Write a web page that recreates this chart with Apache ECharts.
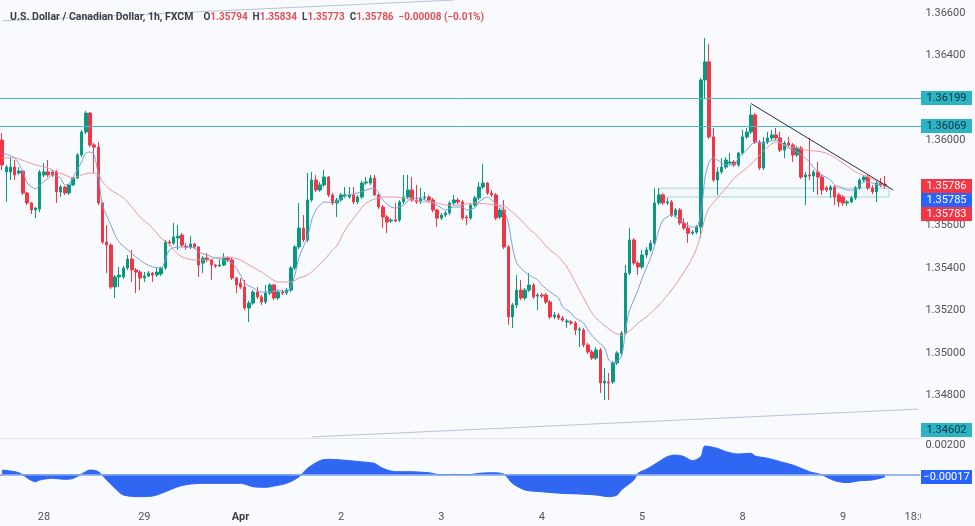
<!DOCTYPE html>
<html><head><meta charset="utf-8">
<script src="https://cdn.jsdelivr.net/npm/echarts@6/dist/echarts.min.js"></script>
<style>html,body{margin:0;padding:0;background:#f8fafd}#c{width:975px;height:526px}</style>
</head><body><div id="c"></div>
<script>
// ---------------- DATA ----------------
const barCount = 220;
const dateLabels = [[10,'28'],[34,'29'],[57,'Apr'],[81,'2'],[105,'3'],[129,'4'],[153,'5'],[177,'8'],[201,'9'],[219,'18:00']];
// [open, close, low, high]
const candles = [
[1.36002,1.35885,1.35861,1.36035],[1.35852,1.35875,1.35711,1.35885],[1.35852,1.35875,1.35814,1.35922],[1.35875,1.35838,1.35814,1.35908],
[1.35847,1.35856,1.35838,1.35875],[1.35856,1.35753,1.35744,1.35861],[1.35753,1.35706,1.35696,1.35758],[1.35706,1.35673,1.35654,1.35711],
[1.35673,1.35682,1.35635,1.35687],[1.35677,1.35852,1.35663,1.35861],[1.35838,1.35852,1.35828,1.35894],[1.35852,1.35838,1.35828,1.35908],
[1.35852,1.35838,1.35828,1.35861],[1.35852,1.35758,1.35706,1.35861],[1.35758,1.35781,1.35734,1.35791],[1.35781,1.35753,1.35744,1.35786],
[1.35753,1.35791,1.35744,1.35796],[1.35791,1.35823,1.35786,1.35828],[1.35823,1.35932,1.35819,1.35941],[1.35932,1.36040,1.35922,1.36049],
[1.36040,1.36129,1.36031,1.36139],[1.36129,1.35979,1.35969,1.36134],[1.35979,1.35969,1.35847,1.35988],[1.35969,1.35706,1.35696,1.35993],
[1.35706,1.35522,1.35513,1.35711],[1.35522,1.35508,1.35376,1.35602],[1.35508,1.35311,1.35301,1.35517],[1.35311,1.35358,1.35259,1.35367],
[1.35358,1.35367,1.35311,1.35405],[1.35358,1.35400,1.35348,1.35409],[1.35400,1.35442,1.35391,1.35461],[1.35442,1.35391,1.35334,1.35485],
[1.35391,1.35381,1.35282,1.35400],[1.35381,1.35353,1.35296,1.35391],[1.35353,1.35362,1.35334,1.35381],[1.35362,1.35376,1.35358,1.35386],
[1.35376,1.35367,1.35334,1.35381],[1.35367,1.35381,1.35358,1.35400],[1.35372,1.35400,1.35362,1.35405],[1.35400,1.35522,1.35391,1.35532],
[1.35522,1.35517,1.35503,1.35532],[1.35517,1.35546,1.35508,1.35612],[1.35541,1.35550,1.35485,1.35602],[1.35555,1.35508,1.35499,1.35564],
[1.35503,1.35499,1.35485,1.35517],[1.35499,1.35513,1.35489,1.35550],[1.35513,1.35499,1.35489,1.35517],[1.35499,1.35414,1.35358,1.35503],
[1.35423,1.35447,1.35376,1.35456],[1.35447,1.35438,1.35428,1.35470],[1.35438,1.35414,1.35344,1.35442],[1.35414,1.35409,1.35400,1.35419],
[1.35409,1.35414,1.35405,1.35438],[1.35414,1.35447,1.35409,1.35470],[1.35447,1.35438,1.35428,1.35452],[1.35438,1.35353,1.35344,1.35447],
[1.35353,1.35320,1.35282,1.35358],[1.35329,1.35311,1.35301,1.35353],[1.35311,1.35212,1.35202,1.35344],[1.35212,1.35235,1.35146,1.35245],
[1.35235,1.35287,1.35226,1.35296],[1.35287,1.35264,1.35254,1.35311],[1.35264,1.35240,1.35226,1.35273],[1.35240,1.35282,1.35231,1.35320],
[1.35282,1.35320,1.35273,1.35329],[1.35320,1.35259,1.35249,1.35325],[1.35259,1.35287,1.35249,1.35296],[1.35287,1.35282,1.35273,1.35296],
[1.35282,1.35296,1.35273,1.35306],[1.35296,1.35400,1.35287,1.35409],[1.35400,1.35499,1.35391,1.35508],[1.35499,1.35588,1.35489,1.35706],
[1.35588,1.35532,1.35522,1.35649],[1.35532,1.35720,1.35522,1.35847],[1.35720,1.35814,1.35711,1.35852],[1.35814,1.35767,1.35758,1.35838],
[1.35767,1.35791,1.35758,1.35805],[1.35791,1.35828,1.35781,1.35861],[1.35828,1.35744,1.35734,1.35833],[1.35744,1.35706,1.35696,1.35753],
[1.35706,1.35720,1.35640,1.35730],[1.35720,1.35744,1.35711,1.35753],[1.35739,1.35744,1.35730,1.35781],[1.35734,1.35744,1.35725,1.35781],
[1.35744,1.35711,1.35701,1.35781],[1.35711,1.35734,1.35701,1.35744],[1.35734,1.35800,1.35725,1.35810],[1.35800,1.35805,1.35791,1.35828],
[1.35800,1.35823,1.35791,1.35838],[1.35823,1.35744,1.35739,1.35838],[1.35744,1.35687,1.35677,1.35748],[1.35687,1.35640,1.35588,1.35696],
[1.35640,1.35616,1.35564,1.35649],[1.35621,1.35626,1.35612,1.35635],[1.35626,1.35621,1.35616,1.35706],[1.35626,1.35711,1.35616,1.35720],
[1.35711,1.35734,1.35701,1.35838],[1.35734,1.35767,1.35725,1.35838],[1.35767,1.35720,1.35711,1.35828],[1.35720,1.35711,1.35701,1.35791],
[1.35711,1.35730,1.35701,1.35777],[1.35730,1.35734,1.35720,1.35758],[1.35734,1.35720,1.35711,1.35744],[1.35720,1.35673,1.35663,1.35730],
[1.35673,1.35635,1.35593,1.35677],[1.35635,1.35649,1.35626,1.35659],[1.35649,1.35659,1.35640,1.35668],[1.35659,1.35706,1.35649,1.35715],
[1.35706,1.35720,1.35696,1.35744],[1.35720,1.35711,1.35701,1.35730],[1.35711,1.35635,1.35626,1.35720],[1.35640,1.35635,1.35602,1.35649],
[1.35635,1.35696,1.35626,1.35706],[1.35696,1.35730,1.35687,1.35739],[1.35730,1.35781,1.35720,1.35805],[1.35781,1.35800,1.35772,1.35889],
[1.35800,1.35753,1.35744,1.35805],[1.35753,1.35744,1.35734,1.35767],[1.35744,1.35635,1.35626,1.35753],[1.35640,1.35673,1.35630,1.35682],
[1.35673,1.35499,1.35489,1.35720],[1.35499,1.35170,1.35132,1.35508],[1.35170,1.35226,1.35118,1.35235],[1.35226,1.35296,1.35212,1.35367],
[1.35296,1.35259,1.35249,1.35344],[1.35259,1.35296,1.35249,1.35306],[1.35296,1.35320,1.35287,1.35376],[1.35320,1.35264,1.35254,1.35329],
[1.35268,1.35273,1.35202,1.35282],[1.35273,1.35268,1.35259,1.35282],[1.35273,1.35240,1.35231,1.35282],[1.35240,1.35170,1.35160,1.35249],
[1.35170,1.35179,1.35160,1.35193],[1.35179,1.35165,1.35155,1.35188],[1.35165,1.35155,1.35146,1.35174],[1.35146,1.35151,1.35118,1.35160],
[1.35146,1.35141,1.35132,1.35155],[1.35141,1.35108,1.35085,1.35151],[1.35108,1.35113,1.35028,1.35122],[1.35108,1.35038,1.35028,1.35118],
[1.35038,1.35005,1.34995,1.35047],[1.35005,1.34976,1.34967,1.35014],[1.34976,1.35014,1.34967,1.35028],[1.35014,1.34859,1.34812,1.35024],
[1.34859,1.34868,1.34779,1.34929],[1.34864,1.34859,1.34779,1.34906],[1.34864,1.34953,1.34854,1.34962],[1.34953,1.35000,1.34943,1.35009],
[1.35000,1.35094,1.34991,1.35103],[1.35094,1.35376,1.35085,1.35414],[1.35376,1.35532,1.35367,1.35588],[1.35532,1.35423,1.35414,1.35541],
[1.35423,1.35405,1.35367,1.35433],[1.35405,1.35461,1.35395,1.35485],[1.35461,1.35485,1.35447,1.35499],[1.35485,1.35517,1.35475,1.35532],
[1.35517,1.35706,1.35508,1.35776],[1.35706,1.35744,1.35696,1.35776],[1.35744,1.35706,1.35696,1.35753],[1.35706,1.35711,1.35696,1.35730],
[1.35711,1.35649,1.35640,1.35720],[1.35649,1.35673,1.35640,1.35682],[1.35673,1.35612,1.35602,1.35682],[1.35612,1.35588,1.35579,1.35635],
[1.35588,1.35564,1.35518,1.35616],[1.35564,1.35569,1.35555,1.35579],[1.35569,1.35593,1.35560,1.35602],[1.35593,1.36285,1.35541,1.36294],
[1.36285,1.36370,1.36200,1.36482],[1.36370,1.36017,1.36007,1.36454],[1.36017,1.35814,1.35805,1.36059],[1.35814,1.35852,1.35744,1.35875],
[1.35852,1.35875,1.35842,1.35917],[1.35875,1.35908,1.35866,1.35922],[1.35894,1.35899,1.35885,1.35941],[1.35899,1.35885,1.35875,1.35908],
[1.35885,1.35941,1.35875,1.35946],[1.35941,1.36017,1.35932,1.36049],[1.36017,1.36040,1.36007,1.36059],[1.36040,1.36120,1.36031,1.36167],
[1.36120,1.35993,1.35983,1.36129],[1.35993,1.35871,1.35861,1.36002],[1.35871,1.35993,1.35861,1.36017],[1.35993,1.36012,1.35983,1.36040],
[1.36012,1.36026,1.36002,1.36049],[1.36026,1.36012,1.36002,1.36059],[1.36012,1.35955,1.35946,1.36040],[1.35955,1.35988,1.35917,1.35998],
[1.35988,1.35979,1.35969,1.36017],[1.35979,1.35932,1.35899,1.35988],[1.35932,1.35965,1.35922,1.35974],[1.35965,1.35828,1.35819,1.35974],
[1.35828,1.35838,1.35696,1.35852],[1.35838,1.35833,1.35814,1.36012],[1.35833,1.35852,1.35758,1.35861],[1.35852,1.35828,1.35744,1.35899],
[1.35828,1.35767,1.35744,1.35838],[1.35777,1.35767,1.35758,1.35786],[1.35767,1.35781,1.35730,1.35791],[1.35781,1.35734,1.35696,1.35791],
[1.35744,1.35711,1.35687,1.35753],[1.35734,1.35706,1.35692,1.35744],[1.35706,1.35711,1.35692,1.35720],[1.35711,1.35730,1.35706,1.35739],
[1.35730,1.35777,1.35720,1.35786],[1.35777,1.35814,1.35767,1.35823],[1.35814,1.35828,1.35805,1.35838],[1.35828,1.35777,1.35767,1.35838],
[1.35777,1.35758,1.35748,1.35791],[1.35758,1.35800,1.35711,1.35810],[1.35800,1.35791,1.35781,1.35823],[1.35794,1.35786,1.35773,1.35834]
];
// moving averages: [bar index, value]
const maFast = [[0,1.35941],[3,1.35918],[5,1.35852],[6,1.35800],[8,1.35772],[9,1.35791],[11,1.35823],[12,1.35838],[14,1.35823],[15,1.35791],[16,1.35795],[17,1.35828],[19,1.35899],[20,1.35941],[21,1.35946],[22,1.35932],[23,1.35838],[24,1.35696],[26,1.35602],[27,1.35555],[28,1.35522],[30,1.35485],[32,1.35452],[34,1.35423],[36,1.35405],[38,1.35400],[39,1.35438],[40,1.35485],[42,1.35499],[44,1.35499],[46,1.35494],[47,1.35475],[49,1.35461],[51,1.35447],[53,1.35438],[55,1.35423],[57,1.35367],[58,1.35329],[60,1.35306],[62,1.35287],[64,1.35287],[66,1.35296],[68,1.35287],[69,1.35311],[70,1.35367],[71,1.35452],[73,1.35546],[74,1.35626],[75,1.35673],[76,1.35696],[77,1.35711],[79,1.35706],[82,1.35739],[85,1.35753],[87,1.35767],[89,1.35776],[90,1.35753],[91,1.35720],[93,1.35687],[94,1.35682],[96,1.35696],[98,1.35730],[99,1.35730],[101,1.35720],[103,1.35706],[105,1.35682],[106,1.35673],[108,1.35687],[110,1.35687],[111,1.35673],[113,1.35682],[114,1.35711],[116,1.35734],[117,1.35720],[119,1.35687],[120,1.35673],[121,1.35612],[122,1.35499],[123,1.35423],[125,1.35381],[126,1.35367],[128,1.35344],[129,1.35320],[131,1.35287],[133,1.35259],[134,1.35217],[136,1.35188],[137,1.35165],[139,1.35141],[140,1.35108],[142,1.35061],[144,1.35024],[145,1.34967],[146,1.34953],[148,1.34981],[149,1.35108],[150,1.35202],[152,1.35296],[153,1.35353],[154,1.35400],[155,1.35447],[156,1.35508],[157,1.35579],[158,1.35626],[160,1.35649],[162,1.35626],[163,1.35612],[165,1.35593],[166,1.35593],[167,1.35649],[168,1.35823],[169,1.35899],[170,1.35918],[171,1.35908],[173,1.35885],[175,1.35885],[176,1.35918],[178,1.35955],[179,1.35979],[180,1.35993],[182,1.35988],[183,1.35993],[185,1.36002],[186,1.35993],[188,1.35965],[190,1.35946],[191,1.35932],[193,1.35899],[194,1.35871],[196,1.35838],[198,1.35814],[199,1.35791],[201,1.35776],[202,1.35767],[204,1.35767],[205,1.35791],[206,1.35805],[208,1.35800],[209,1.35791],[211,1.35785]];
const maSlow = [[0,1.35918],[3,1.35918],[6,1.35899],[8,1.35885],[11,1.35871],[13,1.35852],[15,1.35838],[17,1.35823],[19,1.35838],[21,1.35847],[23,1.35842],[24,1.35805],[26,1.35767],[29,1.35730],[31,1.35687],[33,1.35640],[36,1.35588],[38,1.35541],[40,1.35513],[41,1.35485],[43,1.35452],[46,1.35438],[49,1.35438],[51,1.35447],[54,1.35452],[57,1.35438],[59,1.35414],[62,1.35381],[64,1.35353],[66,1.35334],[69,1.35334],[71,1.35353],[73,1.35367],[75,1.35400],[77,1.35438],[79,1.35485],[80,1.35503],[82,1.35579],[85,1.35659],[87,1.35706],[90,1.35730],[92,1.35734],[94,1.35734],[97,1.35725],[99,1.35716],[101,1.35711],[104,1.35706],[106,1.35696],[109,1.35696],[111,1.35701],[113,1.35706],[116,1.35701],[118,1.35696],[120,1.35692],[122,1.35663],[124,1.35626],[126,1.35584],[128,1.35550],[130,1.35503],[133,1.35452],[135,1.35405],[138,1.35296],[141,1.35188],[143,1.35146],[146,1.35099],[148,1.35085],[150,1.35104],[152,1.35141],[154,1.35170],[157,1.35226],[160,1.35296],[163,1.35381],[165,1.35447],[166,1.35494],[167,1.35555],[168,1.35635],[169,1.35682],[171,1.35730],[173,1.35776],[175,1.35823],[178,1.35871],[180,1.35908],[182,1.35951],[183,1.35969],[185,1.35993],[187,1.35979],[190,1.35965],[192,1.35955],[194,1.35951],[196,1.35946],[198,1.35932],[201,1.35894],[204,1.35852],[207,1.35828],[210,1.35800],[211,1.35783]];
// lower-pane oscillator: [bar index, value]
const oscValues = [[0,0.00030],[4,0.00012],[8,-0.00049],[9,-0.00037],[12,-0.00026],[15,-0.00033],[17,-0.00026],[20,0.00019],[21,0.00030],[23,0.00019],[25,-0.00037],[27,-0.00094],[29,-0.00139],[33,-0.00150],[36,-0.00146],[39,-0.00117],[42,-0.00083],[45,-0.00065],[49,-0.00060],[54,-0.00060],[57,-0.00060],[60,-0.00083],[63,-0.00087],[65,-0.00078],[68,-0.00060],[71,-0.00015],[73,0.00042],[76,0.00094],[78,0.00103],[83,0.00094],[88,0.00080],[89,0.00076],[91,0.00042],[94,0.00019],[97,0.00019],[102,0.00012],[105,-0.00003],[108,0.00001],[111,-0.00003],[114,0.00008],[117,0.00012],[120,0.00001],[122,-0.00060],[125,-0.00105],[129,-0.00117],[134,-0.00128],[138,-0.00132],[142,-0.00139],[145,-0.00150],[147,-0.00139],[148,-0.00105],[151,-0.00037],[152,0.00008],[154,0.00035],[157,0.00087],[159,0.00121],[161,0.00132],[163,0.00121],[165,0.00094],[167,0.00121],[168,0.00193],[171,0.00177],[173,0.00155],[176,0.00139],[179,0.00144],[180,0.00125],[183,0.00110],[186,0.00087],[189,0.00064],[193,0.00019],[196,-0.00003],[199,-0.00042],[202,-0.00055],[205,-0.00042],[208,-0.00037],[211,-0.00017]];
const levels = [1.36199, 1.36069];
const trendLine = [[179,1.36174],[213,1.35767]];
const channelLow = [[74,1.34605],[219,1.34736]];
const channelHigh = [[0,1.36563],[108,1.36661]];
const zoneBox = [[157,1.35776],[212,1.35734]];
const priceTicks = {min:1.346, max:1.366612, step:0.002};
const hiddenPriceTicks = ['1.36200', '1.35800'];
const oscTicks = {min:-0.002, max:0.002407, step:0.002};
const lastValues = {close:1.35786, maFast:1.35785, maSlow:1.35783, lower:1.34602, osc:-0.00017};
const legend = {name:'U.S. Dollar / Canadian Dollar, 1h, FXCM', o:'1.35794', h:'1.35834', l:'1.35773', c:'1.35786', chg:'\u22120.00008 (\u22120.01%)'};

// ---------------- CHART ----------------
const FONT = 'Roboto';
const UP = '#089981', DOWN = '#f23645';
const cats = Array.from({length: barCount}, (_, i) => String(i));
const labelMap = new Map(dateLabels);
const chart = echarts.init(document.getElementById('c'));
const G = {left: -4, width: 924.4};
const lastBar = barCount - 1;
const solid = (color, width) => ({color, width, type: 'solid'});

chart.setOption({
  backgroundColor: '#f8fafd',
  animation: false,
  title: {
    left: 5, top: 3,
    text: `{t|${legend.name}}  {k|O}{v|${legend.o}} {k|H}{v|${legend.h}} {k|L}{v|${legend.l}} {k|C}{v|${legend.c}} {v|${legend.chg}}`,
    textStyle: {rich: {
      t: {fontFamily: FONT, fontSize: 10.5, color: '#3b3f4a'},
      k: {fontFamily: FONT, fontSize: 10, color: '#3b3f4a'},
      v: {fontFamily: FONT, fontSize: 10, color: '#e0505a'}
    }}
  },
  grid: [
    {left: G.left, width: G.width, top: 0, height: 438},
    {left: G.left, width: G.width, top: 439, height: 65}
  ],
  xAxis: [
    {type: 'category', gridIndex: 0, data: cats, boundaryGap: true,
     axisLine: {show: true, lineStyle: {color: '#e0e3eb'}}, axisTick: {show: false}, axisLabel: {show: false}, splitLine: {show: false}},
    {type: 'category', gridIndex: 1, data: cats, boundaryGap: true,
     axisLine: {show: false}, axisTick: {show: false}, splitLine: {show: false},
     axisLabel: {interval: (idx) => labelMap.has(idx), margin: 8,
       formatter: (v) => { const s = labelMap.get(Number(v)); if (!s) return ''; return s === 'Apr' ? '{b|Apr}' : s; },
       fontFamily: FONT, fontSize: 11, color: '#50535e',
       rich: {b: {fontFamily: FONT, fontSize: 11, fontWeight: 'bold', color: '#3b3f4a'}}}}
  ],
  yAxis: [
    {type: 'value', gridIndex: 0, position: 'right', min: priceTicks.min, max: priceTicks.max, interval: priceTicks.step,
     axisLine: {show: false}, axisTick: {show: false}, splitLine: {show: false},
     axisLabel: {margin: 5, showMinLabel: false, showMaxLabel: false, fontFamily: FONT, fontSize: 11, color: '#50535e',
       formatter: v => { const s = v.toFixed(5); return hiddenPriceTicks.includes(s) ? '' : s; }}},
    {type: 'value', gridIndex: 1, position: 'right', min: oscTicks.min, max: oscTicks.max, interval: oscTicks.step,
     axisLine: {show: false}, axisTick: {show: false}, splitLine: {show: false},
     axisLabel: {margin: 5, showMinLabel: false, showMaxLabel: false, fontFamily: FONT, fontSize: 11, color: '#50535e',
       formatter: v => Math.abs(v - 0.002) < 1e-7 ? '0.00200' : ''}}
  ],
  series: [
    {type: 'candlestick', xAxisIndex: 0, yAxisIndex: 0, data: candles, barWidth: 3,
     itemStyle: {color: UP, color0: DOWN, borderColor: UP, borderColor0: DOWN, borderWidth: 1},
     markLine: {silent: true, symbol: ['none', 'none'], label: {show: false}, animation: false,
       data: [
         [{coord: [0, levels[0]]}, {coord: [lastBar, levels[0]], lineStyle: solid('#4fb6bd', 1)}],
         [{coord: [0, levels[1]]}, {coord: [lastBar, levels[1]], lineStyle: solid('#4fb6bd', 1)}],
         [{coord: trendLine[0]}, {coord: trendLine[1], lineStyle: solid('#2a2e39', 1)}],
         [{coord: channelLow[0]}, {coord: channelLow[1], lineStyle: solid('#b8c3d9', 1)}],
         [{coord: channelHigh[0]}, {coord: channelHigh[1], lineStyle: solid('#b8c3d9', 1)}]
       ]},
     markArea: {silent: true, itemStyle: {color: 'rgba(120,200,200,0.05)', borderColor: '#a6d6d6', borderWidth: 1},
       data: [[{coord: zoneBox[0]}, {coord: zoneBox[1]}]]}
    },
    {type: 'line', xAxisIndex: 0, yAxisIndex: 0, data: maFast, symbol: 'none', smooth: 0.25, z: 4,
     lineStyle: {color: '#7f9ddb', width: 1}},
    {type: 'line', xAxisIndex: 0, yAxisIndex: 0, data: maSlow, symbol: 'none', smooth: 0.25, z: 4,
     lineStyle: {color: '#e8999c', width: 1}},
    {type: 'line', xAxisIndex: 1, yAxisIndex: 1, data: oscValues, symbol: 'none', smooth: 0.3,
     lineStyle: {color: '#2f66f2', width: 1}, areaStyle: {color: '#2f66f2', opacity: 1},
     markLine: {silent: true, symbol: ['none', 'none'], label: {show: false},
       data: [{yAxis: lastValues.osc, lineStyle: solid('#7ea0ee', 1.5)}]}}
  ]
});

// right-hand value boxes and the left edge of the level lines, placed through the axis scales
const BX = 921, BW = 51, BH = 14;
function box(yc, txt, bg, fg) {
  return {type: 'group', zlevel: 1, z: 100, children: [
    {type: 'rect', zlevel: 1, shape: {x: BX, y: Math.round(yc - BH / 2), width: BW, height: BH}, style: {fill: bg}},
    {type: 'text', zlevel: 1, z: 101, style: {x: BX + BW / 2, y: Math.round(yc), text: txt, fill: fg, font: `11px ${FONT}`, textAlign: 'center', textVerticalAlign: 'middle'}}
  ]};
}
const py = v => chart.convertToPixel({yAxisIndex: 0}, v);
const oy = v => chart.convertToPixel({yAxisIndex: 1}, v);
const xEnd = chart.convertToPixel({xAxisIndex: 0}, lastBar);
const yc = py(lastValues.close);
const paneBottom = 438;
const levelLine = (v, x1, x2) => ({type: 'line', z: 90, shape: {x1, y1: Math.round(py(v)) + 0.5, x2, y2: Math.round(py(v)) + 0.5}, style: {stroke: '#4fb6bd', lineWidth: 1}});
const graphics = [
  levelLine(levels[0], 0, 6), levelLine(levels[1], 0, 6),
  levelLine(levels[0], xEnd - 2, BX), levelLine(levels[1], xEnd - 2, BX),
  box(py(levels[0]), levels[0].toFixed(5), '#2bb5c4', '#10303a'),
  box(py(levels[1]), levels[1].toFixed(5), '#2bb5c4', '#10303a'),
  box(yc, lastValues.close.toFixed(5), '#f23645', '#ffffff'),
  box(yc + BH, lastValues.maFast.toFixed(5), '#2962ff', '#ffffff'),
  box(yc + 2 * BH, lastValues.maSlow.toFixed(5), '#f23645', '#ffffff'),
  box(Math.min(py(lastValues.lower), paneBottom - BH / 2 - 1), lastValues.lower.toFixed(5), '#2bb5c4', '#10303a'),
  box(oy(lastValues.osc), '\u22120.00017', '#2962ff', '#ffffff'),
  {type: 'rect', zlevel: 1, z: 95, shape: {x: BX, y: 506, width: 975 - BX, height: 20}, style: {fill: '#f8fafd'}}
];
chart.setOption({graphic: graphics});
</script></body></html>
